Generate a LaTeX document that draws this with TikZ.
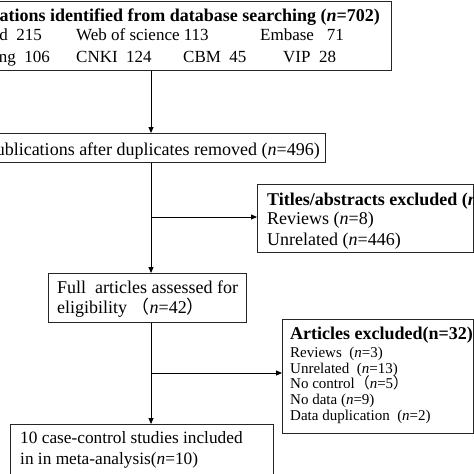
\documentclass[tikz,border=0pt]{standalone}
\usepackage{fontspec}
\setmainfont{Liberation Serif}
\newfontfamily\cjk{Noto Sans CJK SC}
\usetikzlibrary{arrows.meta}
\begin{document}
\begin{tikzpicture}[x=1pt,y=-1pt,
  box/.style={draw=black!85, line width=1.2pt, inner sep=0pt, anchor=north west},
  lbl/.style={inner sep=0pt, anchor=base west},
  big/.style={font=\fontsize{18pt}{21pt}\selectfont},
  fin/.style={font=\fontsize{17.3pt}{21pt}\selectfont},
  bigb/.style={font=\bfseries\fontsize{18pt}{21pt}\selectfont},
  mid/.style={font=\fontsize{17pt}{20pt}\selectfont},
  small/.style={font=\fontsize{15pt}{16pt}\selectfont},
  arr/.style={line width=0.9pt, -{Triangle[length=6pt,width=5pt]}}]
\useasboundingbox (0,0) rectangle (474,474);
\fill[white] (0,0) rectangle (474,474);
\begin{scope}
\clip (0,0) rectangle (474,474);
% boxes
\node[box, minimum width=411pt, minimum height=69pt] (b1) at (-20,1) {};
\node[box, minimum width=345pt, minimum height=29pt] (b2) at (-20,133) {};
\node[box, minimum width=216pt, minimum height=68pt] (tx) at (257,184) {};
\node[box, minimum width=198pt, minimum height=49pt] (b3) at (48,273) {};
\node[box, minimum width=191pt, minimum height=114pt] (ax) at (282,319) {};
\node[box, minimum width=263pt, minimum height=60pt] (b4) at (10,424) {};
% texts of the top box
\node[lbl, bigb, anchor=base east] (t1) at (380,21) {Publications identified from database searching (\textit{n}=702)};
\node[lbl, mid, anchor=base east] (t2a) at (42,40) {PubMed\ \ 215};
\node[lbl, mid] (t2b) at (76,40) {Web of science 113};
\node[lbl, mid] (t2c) at (260,40) {Embase\ \ \ 71};
\node[lbl, mid, anchor=base east] (t3a) at (50,62) {Wanfang\ \ 106};
\node[lbl, mid] (t3b) at (76,62) {CNKI\ \ 124};
\node[lbl, mid] (t3c) at (183,62) {CBM\ \ 45};
\node[lbl, mid] (t3d) at (283,62) {VIP\ \ 28};
% second box
\node[lbl, big, anchor=base east] (u1) at (320,155) {Publications after duplicates removed (\textit{n}=496)};
% titles excluded
\node[lbl, bigb] (v1) at (267,205) {Titles/abstracts excluded (\textit{n}=454)};
\node[lbl, big] (v2) at (267,224) {Reviews (\textit{n}=8)};
\node[lbl, big] (v3) at (267,245) {Unrelated (\textit{n}=446)};
% full articles
\node[lbl, big] (w1) at (57,293) {Full\ \ articles assessed for};
\node[lbl, big] (w2) at (57,313) {eligibility {\cjk （}\textit{n}=42{\cjk ）}};
% articles excluded
\node[lbl, bigb] (x1) at (290,339) {Articles excluded(n=32)};
\node[lbl, small] (x2) at (290,357) {Reviews\ \ (\textit{n}=3)};
\node[lbl, small] (x3) at (290,373) {Unrelated\ \ (\textit{n}=13)};
\node[lbl, small] (x4) at (290,388) {No control\smash{\cjk （}\textit{n}=5\smash{\cjk ）}};
\node[lbl, small] (x5) at (290,404) {No data (\textit{n}=9)};
\node[lbl, small] (x6) at (290,420) {Data duplication\ \ (\textit{n}=2)};
% final box
\node[lbl, fin] (y1) at (20,443) {10 case-control studies included};
\node[lbl, fin] (y2) at (20,464) {in in meta-analysis(\textit{n}=10)};
% connectors
\coordinate (trunk) at (151,0);
\coordinate (j1) at (151,217);
\coordinate (j2) at (151,373);
\draw[arr] (b1.south -| trunk) -- (b2.north -| trunk);
\draw[arr] (b2.south -| trunk) -- (b3.north -| trunk);
\draw[arr] (j1) -- (tx.west |- j1);
\draw[arr] (b3.south -| trunk) -- (b4.north -| trunk);
\draw[arr] (j2) -- (ax.west |- j2);
\end{scope}
\end{tikzpicture}
\end{document}
